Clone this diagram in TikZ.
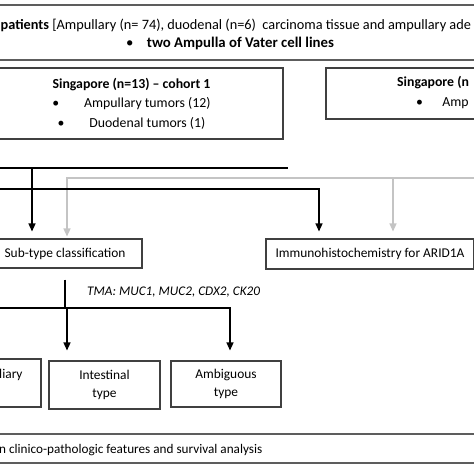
\documentclass[tikz,border=0pt]{standalone}
\usepackage{fontspec}
\setmainfont{Carlito}
\usetikzlibrary{positioning, arrows.meta, calc}
\definecolor{boxgrey}{HTML}{404040}
\definecolor{linegrey}{HTML}{C4C4C4}

\begin{document}
\begin{tikzpicture}[x=1pt, y=-1pt,
    box/.style={draw=boxgrey, line width=1.1pt, inner sep=0pt, font=\fontsize{13.4}{18}\selectfont, align=center},
    wide/.style={draw=boxgrey!85, line width=1.6pt, inner sep=0pt, minimum width=500pt},
    txt/.style={inner sep=0pt, font=\fontsize{13.2}{15}\selectfont},
    link/.style={line width=1.3pt, draw=black},
    arrow/.style={link, -{Triangle[length=8pt, width=7pt]}, shorten >=7pt},
    glink/.style={line width=1.3pt, draw=linegrey, -{Triangle[length=8pt, width=7pt]}}]
  \useasboundingbox (0,0) rectangle (474,474);
  \clip (0,0) rectangle (474,474);
  % source box
  \node[wide, minimum height=55pt] (src) at (237,32.5) {};
  \node[txt, anchor=west, font=\fontsize{14.3}{17}\selectfont] (srcA) at (0.5,25) {\textbf{patients} [Ampullary (n= 74), duodenal (n=6)\ \ carcinoma tissue and ampullary ade};
  \node[txt, anchor=west, font=\fontsize{14.8}{17}\selectfont] (srcB) at (126,43) {\textbullet\hspace{0.9em}\textbf{two Ampulla of Vater cell lines}};
  % cohorts
  \node[box, font=\fontsize{13.8}{19.5}\selectfont, minimum width=303pt, minimum height=71pt] (sg1) at (131.5,103.5)
    {\textbf{Singapore (n=13) -- cohort 1}\\ \textbullet\hspace{1.8em}Ampullary tumors (12)\\ \textbullet\hspace{1.8em}Duodenal tumors (1)};
  \node[box, minimum width=310pt, minimum height=51pt] (sg2) at (481,93.5) {};
  \node[txt, anchor=west, font=\fontsize{13.8}{15}\selectfont] (sg2A) at (397,83) {\textbf{Singapore (n}};
  \node[txt, anchor=west, font=\fontsize{13.8}{15}\selectfont] (sg2B) at (416,103) {\textbullet\hspace{1.4em}Amp};
  % analyses
  \node[box, minimum width=154pt, minimum height=29pt] (sub) at (65,253.5) {Sub-type classification};
  \node[box, minimum width=208pt, minimum height=30pt] (ihc) at (370,254) {Immunohistochemistry for ARID1A};
  \node[txt, anchor=west, font=\fontsize{13.2}{15}\selectfont\itshape] (tma) at (87,292) {TMA: MUC1, MUC2, CDX2, CK20};
  % sub-types
  \node[box, minimum width=100pt, minimum height=48pt] (pbt) at (-9,383) {};
  \node[txt, anchor=west, font=\fontsize{13.4}{15}\selectfont] (pbtA) at (-1,375) {liary};
  \node[box, minimum width=111pt, minimum height=48pt] (int) at (104.5,385) {Intestinal\\type};
  \node[box, minimum width=110pt, minimum height=46pt] (amb) at (226,384) {Ambiguous\\type};
  % outcome
  \node[wide, minimum height=29pt] (res) at (237,448.5) {};
  \node[txt, anchor=west] (resA) at (-1,450) {n clinico-pathologic features and survival analysis};
  % connectors
  \coordinate (greyR) at (480,178);
  \draw[glink, shorten >=2pt] (greyR) -| ([xshift=2pt]sub.north);
  \draw[glink, shorten >=7pt] ([xshift=23pt]ihc.north |- greyR) -- ([xshift=23pt]ihc.north);
  \coordinate (topL) at (-5,168);
  \coordinate (topR) at (288,168);
  \draw[link] (topL) -- (topR);
  \draw[arrow] ([xshift=-33pt]sub.north |- topL) -- ([xshift=-33pt]sub.north);
  \coordinate (midL) at (-5,189);
  \draw[arrow] (midL) -| ([xshift=-51pt]ihc.north);
  \coordinate (lowL) at (-5,308);
  \draw[link, shorten <=11pt] (sub.south) -- (sub.south |- lowL);
  \draw[arrow, shorten >=10pt] (lowL) -| ([xshift=4pt]amb.north);
  \draw[arrow, shorten >=10pt] ([xshift=2pt]sub.south |- lowL) -- ([xshift=2pt]sub.south |- int.north);
\end{tikzpicture}
\end{document}
